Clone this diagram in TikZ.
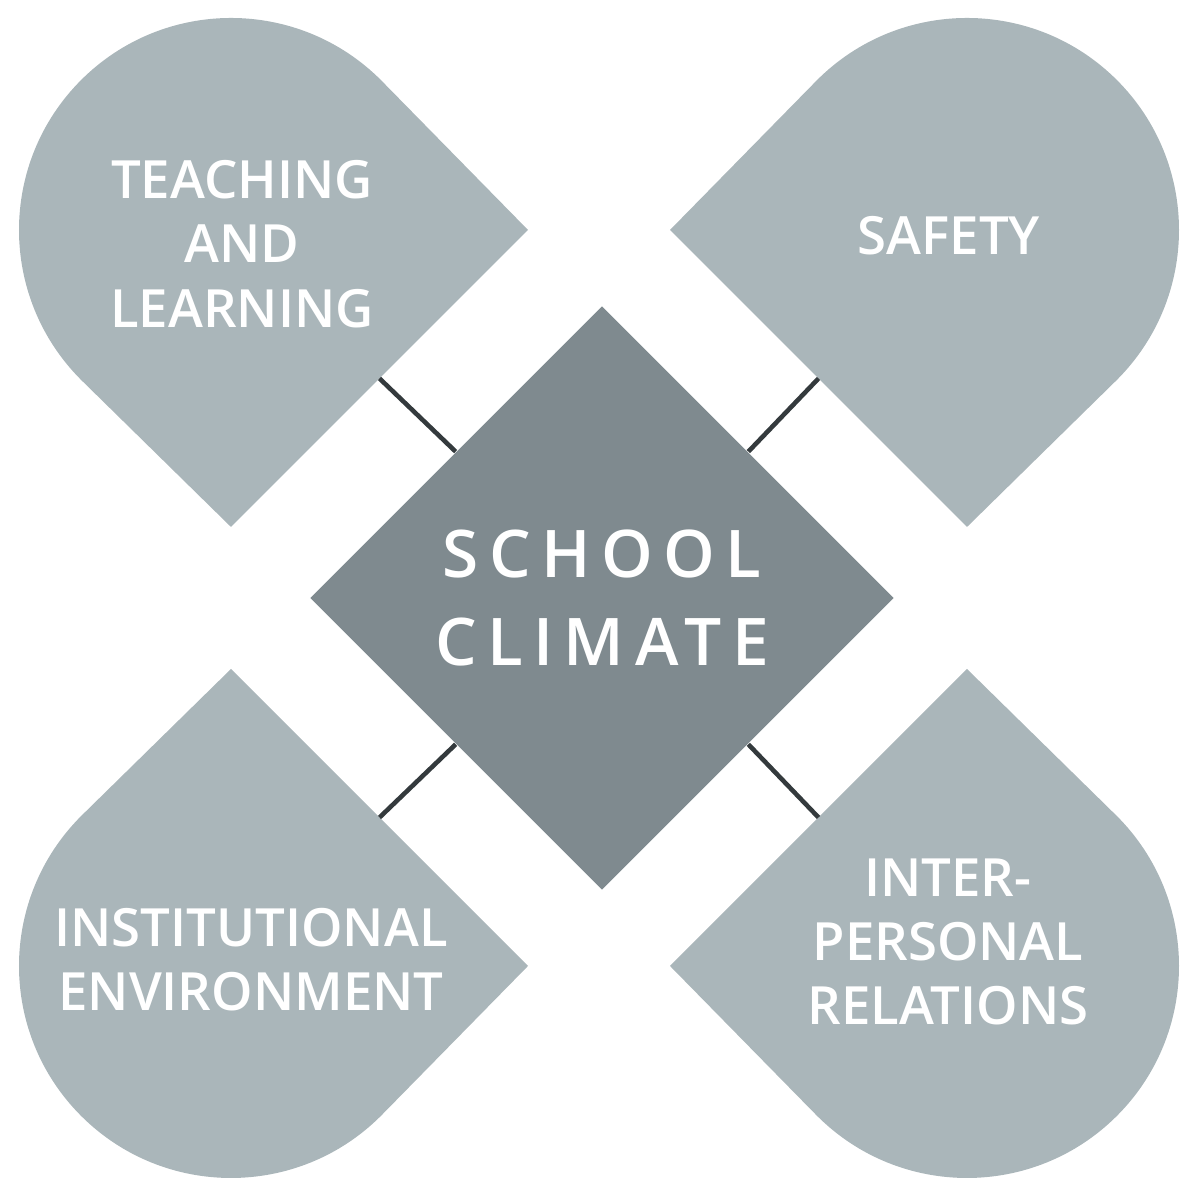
\documentclass[tikz,border=0pt]{standalone}
\usepackage{fontspec}
\setmainfont{Open Sans}[BoldFont={* Semibold}]
\newfontfamily\climatefont{Open Sans}[BoldFont={* Semibold}, LetterSpace=16]
\usetikzlibrary{shapes.geometric}
\definecolor{leafgray}{RGB}{170,182,186}
\definecolor{coregray}{RGB}{127,138,143}
\definecolor{linkgray}{RGB}{52,58,61}
\begin{document}
\begin{tikzpicture}[leaf/.style={fill=leafgray},
  leaftext/.style={text=white, align=center, font=\fontsize{15pt}{18.3pt}\selectfont\bfseries},
  link/.style={draw=linkgray, line width=1.3pt}]
\useasboundingbox (0,0) rectangle (12,11.96);
\foreach \name/\x/\y/\a in {tl/2.31/9.66/-45, tr/9.67/9.66/225, bl/2.31/2.30/45, br/9.67/2.30/135} {
  \begin{scope}[shift={(\x,\y)}, rotate=\a]
    \fill[leaf] (45:2.97) -- (90:2.12) arc[start angle=90, end angle=270, radius=2.12] -- (-45:2.97) -- cycle;
    \coordinate (\name) at (0:2.1);
  \end{scope}
}
\node [diamond, fill=coregray, minimum size=5.84cm, inner sep=0pt, text=white, align=center,
  font=\fontsize{18.7pt}{25pt}\selectfont\climatefont\bfseries] (climate) at (6.02,5.98) {SCHOOL\\CLIMATE};
\node [leaftext] (teaching) at (2.42,9.52) {TEACHING\\AND\\LEARNING};
\node [leaftext] (safety) at (9.49,9.60) {SAFETY};
\node [leaftext] (institutional) at (2.51,2.36) {INSTITUTIONAL\\ENVIRONMENT};
\node [leaftext] (interpersonal) at (9.48,2.54) {INTER-\\PERSONAL\\RELATIONS};
\draw [link] (tl) -- (climate.135) (tr) -- (climate.45) (bl) -- (climate.225) (br) -- (climate.315);
\end{tikzpicture}
\end{document}
